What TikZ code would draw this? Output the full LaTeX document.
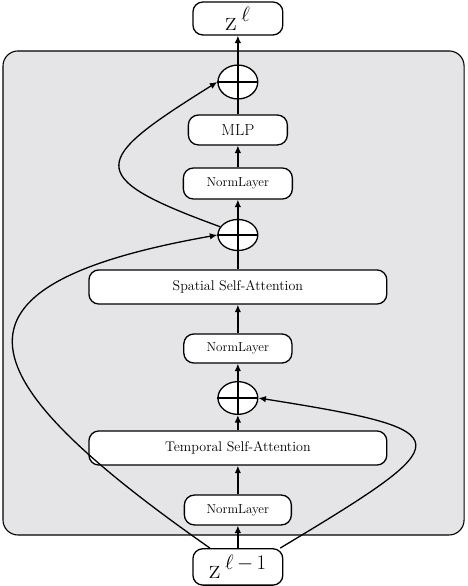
\documentclass[tikz,border=0pt]{standalone}
\usepackage{amsmath}
\usepackage{fontspec}
\usepackage{tikz}
\usetikzlibrary{arrows.meta,shapes.geometric}
\definecolor{panelgray}{RGB}{229,229,231}

\begin{document}
\begin{tikzpicture}[
scale=1,
block/.style={draw,line width=1.3pt,fill=white,rounded corners=10pt,inner sep=0pt,minimum height=1.08cm},
sumnode/.style={draw,line width=1.3pt,fill=white,ellipse,inner sep=0pt,minimum width=1.4cm,minimum height=1.15cm},
flow/.style={-{Latex[length=7.5pt,width=6.5pt]},line width=1.3pt},
plain/.style={line width=1.3pt}
]
    % Canvas
    \useasboundingbox (0,0) rectangle (16.413,20.595);

    % Grey panel
    \draw [line width=1.1pt, fill=panelgray, rounded corners=15pt]
        (0.105,1.793) rectangle (16.31,18.804);

    % Blocks, bottom to top
    \node (zl1) [block, minimum width=3.16cm, minimum height=1.28cm] at (8.36,0.67)
        {\fontsize{28}{30}\selectfont z\,$^{\ell\,-\,1}$};
    \node (nl1) [block, minimum width=3.76cm, minimum height=1.05cm] at (8.36,2.671)
        {\fontsize{13}{15}\selectfont NormLayer};
    \node (temporal) [block, minimum width=10.47cm, minimum height=1.2cm] at (8.36,4.85)
        {\fontsize{14}{16}\selectfont Temporal Self-Attention};
    \node (o3) [sumnode] at (8.36,6.607) {};
    \node (nl2) [block, minimum width=3.8cm, minimum height=1.02cm] at (8.36,8.347)
        {\fontsize{13}{15}\selectfont NormLayer};
    \node (spatial) [block, minimum width=10.47cm, minimum height=1.2cm] at (8.36,10.509)
        {\fontsize{14}{16}\selectfont Spatial Self-Attention};
    \node (o2) [sumnode, minimum height=1.09cm] at (8.36,12.336) {};
    \node (nl3) [block, minimum width=3.83cm, minimum height=1.09cm] at (8.36,14.146)
        {\fontsize{13}{15}\selectfont NormLayer};
    \node (mlp) [block, minimum width=3.48cm, minimum height=1.05cm] at (8.36,16.027)
        {\fontsize{16}{18}\selectfont MLP};
    \node (o1) [sumnode, minimum height=1.19cm] at (8.36,17.713) {};
    \node (zl) [block, minimum width=3.16cm, minimum height=1.16cm] at (8.36,19.945)
        {\fontsize{28}{30}\selectfont z\,$^{\ell}$};

    % Plus signs
    \foreach \s in {o1,o2,o3}
        \draw[plain] (\s.north) -- (\s.south) (\s.west) -- (\s.east);

    % Main path
    \draw[flow] (zl1) -- (nl1);
    \draw[flow] (nl1) -- (temporal);
    \draw[flow] (temporal) -- (o3);
    \draw[flow] (o3) -- (nl2);
    \draw[flow] (nl2) -- (spatial);
    \draw[plain] (spatial) -- (o2);
    \draw[flow] (o2) -- (nl3);
    \draw[flow] (nl3) -- (mlp);
    \draw[plain] (mlp) -- (o1);
    \draw[flow] (o1) -- (zl);

    % Residual connections
    \draw[flow] (zl1.146) .. controls +(145:10.4) and +(190:10.4) .. (o2.west);
    \draw[flow] (zl1.24) .. controls +(31:7.4) and +(-9:7.4) .. (o3.east);
    \draw[flow] (o2.155) .. controls +(160:5.2) and +(212:5.2) .. (o1.west);

\end{tikzpicture}
\end{document}
